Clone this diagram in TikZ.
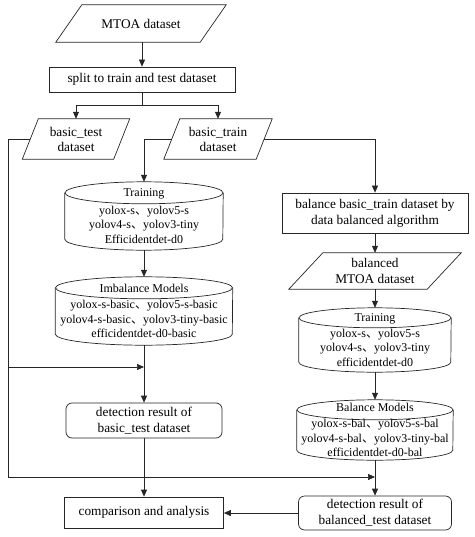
\documentclass[tikz,border=0pt]{standalone}
\usepackage{fontspec}
\setmainfont{Liberation Serif}
\newfontfamily\cjk{Noto Sans CJK SC}
\usetikzlibrary{arrows.meta,calc}
\newcommand\dun{{\cjk 、}}
% cylinder outline: node name, half width, ellipse half height
\newcommand\cylout[3]{%
  \draw[line] ($(#1.north)+(0,#3)$) ellipse [x radius=#2pt, y radius=#3pt];
  \draw[line] ($(#1.north west)+(0,#3)$) -- ($(#1.south west)+(0,-#3)$)
     arc [start angle=180, end angle=360, x radius=#2pt, y radius=#3pt]
     -- ($(#1.north east)+(0,#3)$);}
% parallelogram outline: node name, half slant
\newcommand\paraout[2]{%
  \draw[line] ($(#1.north west)+(#2,0)$) -- ($(#1.north east)+(#2,0)$)
     -- ($(#1.south east)+(-#2,0)$) -- ($(#1.south west)+(-#2,0)$) -- cycle;}
\begin{document}
\begin{tikzpicture}[x=1pt,y=-1pt,
  line/.style={draw=black!85, line width=0.7pt},
  arr/.style={line, -{Triangle[length=7pt,width=6pt]}},
  txt/.style={inner sep=0pt, align=center, font=\fontsize{13.3}{16}\selectfont},
  ptxt/.style={txt, font=\fontsize{13.3}{15}\selectfont},
  ctxt/.style={txt, font=\fontsize{12}{14.5}\selectfont},
  box/.style={txt, line, rectangle},
  rbox/.style={box, rounded corners=6pt},
]
\useasboundingbox (0,0) rectangle (474,537);

% left column
\node[ptxt, minimum width=144pt, minimum height=37pt] (mtoa) at (141,23.5) {MTOA dataset};
\node[box, minimum width=186pt, minimum height=25pt] (split) at (142,79.5) {split to train and test dataset};
\node[ptxt, minimum width=91pt, minimum height=40pt] (test) at (76,139) {basic\_test\\dataset};
\node[ptxt, minimum width=92pt, minimum height=40pt] (train) at (218,139) {basic\_train\\dataset};
\node[ctxt, minimum width=158pt, minimum height=68pt] (tr1) at (144,216)
  {Training\\[3pt]yolox-s\dun yolov5-s\\yolov4-s\dun yolov3-tiny\\Efficidentdet-d0};
\node[ctxt, minimum width=177pt, minimum height=68pt] (imb) at (144,311)
  {Imbalance Models\\[1.5pt]yolox-s-basic\dun yolov5-s-basic\\yolov4-s-basic\dun yolov3-tiny-basic\\efficidentdet-d0-basic};
\node[rbox, minimum width=156pt, minimum height=35pt] (det1) at (144,420.5) {detection result of\\basic\_test dataset};
\node[box, minimum width=159pt, minimum height=31pt] (comp) at (144,512.5) {comparison and analysis};

% right column
\node[box, minimum width=186pt, minimum height=40pt] (bal) at (375,213) {balance basic\_train dataset by\\data balanced algorithm};
\node[txt, minimum width=138pt, minimum height=36pt] (bmt) at (375,271) {balanced\\MTOA dataset};
\node[ctxt, minimum width=152pt, minimum height=64pt] (tr2) at (375,340)
  {Training\\[1.5pt]yolox-s\dun yolov5-s\\yolov4-s\dun yolov3-tiny\\efficidentdet-d0};
\node[ctxt, minimum width=156pt, minimum height=60pt] (bm) at (375,430)
  {Balance Models\\[1.5pt]yolox-s-bal\dun yolov5-s-bal\\yolov4-s-bal\dun yolov3-tiny-bal\\efficidentdet-d0-bal};
\node[rbox, minimum width=153pt, minimum height=34pt] (det2) at (375,513) {detection result of\\balanced\_test dataset};

% outlines
\paraout{mtoa}{13}
\paraout{test}{8}
\paraout{train}{8}
\paraout{bmt}{17}
\cylout{tr1}{79}{11}
\cylout{imb}{88.5}{11}
\cylout{tr2}{76}{10}
\cylout{bm}{78}{10}

% connectors
\coordinate (lft) at (8,0);
\coordinate (j1) at (0,367);
\coordinate (j2) at (0,477);
\draw[arr] (split.north |- mtoa.south) -- (split.north);
\draw[line] (split.south) -- ++(0,13) coordinate (sp);
\draw[arr] (sp) -| (test.north);
\draw[arr] (sp) -| (train.north);
\draw[arr] (train.west) -| (tr1.north);
\draw[arr] (train.east) -| (bal.north);
\draw[arr] (tr1.south) -- (imb.north);
\draw[arr] (imb.south) -- (det1.north);
\draw[arr] (det1.south) -- (comp.north);
\draw[arr] (test.west) -| (lft |- j2) -- (bm.south |- j2);
\draw[arr] (lft |- j1) -- (imb.south |- j1);
\draw[arr] (bal.south) -- (bmt.north);
\draw[arr] (bmt.south) -- (tr2.north);
\draw[arr] (tr2.south) -- (bm.north);
\draw[arr] (bm.south) -- (det2.north);
\draw[arr] (det2.west) -- (det2.west -| comp.east);
\end{tikzpicture}
\end{document}
